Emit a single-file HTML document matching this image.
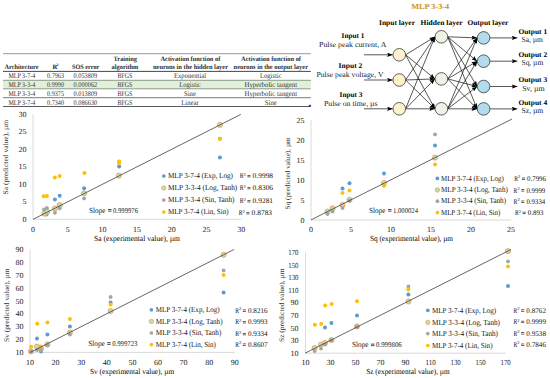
<!DOCTYPE html><html><head><meta charset="utf-8"><title>MLP</title><style>html,body{margin:0;padding:0;background:#fff;width:550px;height:378px;overflow:hidden}svg{display:block}text{font-family:"Liberation Serif", serif;text-rendering:geometricPrecision}</style></head><body>
<svg width="550" height="378" viewBox="0 0 550 378">
<rect width="550" height="378" fill="#fff"/>
<rect x="3" y="80.3" width="307.8" height="8.5" fill="#E2EFDA"/>
<rect x="3" y="53.2" width="307.8" height="1" fill="#9a9a9a"/>
<rect x="3" y="70.9" width="307.8" height="0.9" fill="#333"/>
<rect x="3" y="79.8" width="307.8" height="1" fill="#8c9c86"/>
<rect x="3" y="88.3" width="307.8" height="1" fill="#8c9c86"/>
<rect x="3" y="97.2" width="307.8" height="1" fill="#7a7a7a"/>
<rect x="3" y="106.0" width="307.8" height="1" fill="#5a5a5a"/>
<rect x="308.8" y="104.8" width="2.2" height="2" fill="#3b3bc4"/>
<text x="4.40" y="69.40" font-size="6.7" font-weight="bold" fill="#2e2e2e" textLength="34.20" lengthAdjust="spacingAndGlyphs">Architecture</text>
<text x="52.40" y="69.40" font-size="6.7" font-weight="bold" fill="#1a1a1a">R</text>
<text x="56.60" y="66.30" font-size="3.8" font-weight="bold" fill="#1a1a1a">2</text>
<text x="72.00" y="69.40" font-size="6.7" font-weight="bold" fill="#2e2e2e" textLength="27.40" lengthAdjust="spacingAndGlyphs">SOS error</text>
<text x="113.60" y="60.90" font-size="6.7" font-weight="bold" fill="#2e2e2e" textLength="23.40" lengthAdjust="spacingAndGlyphs">Training</text>
<text x="111.60" y="69.40" font-size="6.7" font-weight="bold" fill="#2e2e2e" textLength="26.80" lengthAdjust="spacingAndGlyphs">algorithm</text>
<text x="160.40" y="60.90" font-size="6.7" font-weight="bold" fill="#2e2e2e" textLength="60.00" lengthAdjust="spacingAndGlyphs">Activation function of</text>
<text x="153.00" y="69.40" font-size="6.7" font-weight="bold" fill="#2e2e2e" textLength="75.00" lengthAdjust="spacingAndGlyphs">neurons in the hidden layer</text>
<text x="241.00" y="60.90" font-size="6.7" font-weight="bold" fill="#2e2e2e" textLength="60.00" lengthAdjust="spacingAndGlyphs">Activation function of</text>
<text x="233.60" y="69.40" font-size="6.7" font-weight="bold" fill="#2e2e2e" textLength="74.40" lengthAdjust="spacingAndGlyphs">neurons in the output layer</text>
<text x="8.40" y="78.20" font-size="7.3" fill="#333" textLength="26.80" lengthAdjust="spacingAndGlyphs">MLP 3-7-4</text>
<text x="47.00" y="78.20" font-size="7.3" fill="#333" textLength="17.00" lengthAdjust="spacingAndGlyphs">0.7963</text>
<text x="73.60" y="78.20" font-size="7.3" fill="#333" textLength="23.60" lengthAdjust="spacingAndGlyphs">0.053809</text>
<text x="117.60" y="78.20" font-size="7.3" fill="#333" textLength="14.80" lengthAdjust="spacingAndGlyphs">BFGS</text>
<text x="174.00" y="78.20" font-size="7.3" fill="#333" textLength="32.00" lengthAdjust="spacingAndGlyphs">Exponential</text>
<text x="260.00" y="78.20" font-size="7.3" fill="#333" textLength="21.60" lengthAdjust="spacingAndGlyphs">Logistic</text>
<text x="8.40" y="86.70" font-size="7.3" fill="#333" textLength="26.80" lengthAdjust="spacingAndGlyphs">MLP 3-3-4</text>
<text x="47.00" y="86.70" font-size="7.3" fill="#333" textLength="17.00" lengthAdjust="spacingAndGlyphs">0.9990</text>
<text x="73.60" y="86.70" font-size="7.3" fill="#333" textLength="23.60" lengthAdjust="spacingAndGlyphs">0.000062</text>
<text x="117.60" y="86.70" font-size="7.3" fill="#333" textLength="14.80" lengthAdjust="spacingAndGlyphs">BFGS</text>
<text x="179.20" y="86.70" font-size="7.3" fill="#333" textLength="21.60" lengthAdjust="spacingAndGlyphs">Logistic</text>
<text x="244.50" y="86.70" font-size="7.3" fill="#333" textLength="52.60" lengthAdjust="spacingAndGlyphs">Hyperbolic tangent</text>
<text x="8.40" y="95.90" font-size="7.3" fill="#333" textLength="26.80" lengthAdjust="spacingAndGlyphs">MLP 3-3-4</text>
<text x="47.00" y="95.90" font-size="7.3" fill="#333" textLength="17.00" lengthAdjust="spacingAndGlyphs">0.9375</text>
<text x="73.60" y="95.90" font-size="7.3" fill="#333" textLength="23.60" lengthAdjust="spacingAndGlyphs">0.013809</text>
<text x="117.60" y="95.90" font-size="7.3" fill="#333" textLength="14.80" lengthAdjust="spacingAndGlyphs">BFGS</text>
<text x="184.00" y="95.90" font-size="7.3" fill="#333" textLength="12.00" lengthAdjust="spacingAndGlyphs">Sine</text>
<text x="244.50" y="95.90" font-size="7.3" fill="#333" textLength="52.60" lengthAdjust="spacingAndGlyphs">Hyperbolic tangent</text>
<text x="8.40" y="104.60" font-size="7.3" fill="#333" textLength="26.80" lengthAdjust="spacingAndGlyphs">MLP 3-7-4</text>
<text x="47.00" y="104.60" font-size="7.3" fill="#333" textLength="17.00" lengthAdjust="spacingAndGlyphs">0.7340</text>
<text x="73.60" y="104.60" font-size="7.3" fill="#333" textLength="23.60" lengthAdjust="spacingAndGlyphs">0.086630</text>
<text x="117.60" y="104.60" font-size="7.3" fill="#333" textLength="14.80" lengthAdjust="spacingAndGlyphs">BFGS</text>
<text x="181.30" y="104.60" font-size="7.3" fill="#333" textLength="17.40" lengthAdjust="spacingAndGlyphs">Linear</text>
<text x="264.80" y="104.60" font-size="7.3" fill="#333" textLength="12.00" lengthAdjust="spacingAndGlyphs">Sine</text>
<line x1="33.00" y1="219.35" x2="33.00" y2="114.35" stroke="#D0D0D0" stroke-width="0.8"/>
<line x1="33.00" y1="219.35" x2="241.20" y2="219.35" stroke="#D0D0D0" stroke-width="0.8"/>
<text x="26.50" y="221.95" font-size="7.8" text-anchor="end" fill="#222" textLength="4.00" lengthAdjust="spacingAndGlyphs">0</text>
<text x="26.50" y="204.45" font-size="7.8" text-anchor="end" fill="#222" textLength="4.00" lengthAdjust="spacingAndGlyphs">5</text>
<text x="26.50" y="186.95" font-size="7.8" text-anchor="end" fill="#222" textLength="8.00" lengthAdjust="spacingAndGlyphs">10</text>
<text x="26.50" y="169.45" font-size="7.8" text-anchor="end" fill="#222" textLength="8.00" lengthAdjust="spacingAndGlyphs">15</text>
<text x="26.50" y="151.95" font-size="7.8" text-anchor="end" fill="#222" textLength="8.00" lengthAdjust="spacingAndGlyphs">20</text>
<text x="26.50" y="134.45" font-size="7.8" text-anchor="end" fill="#222" textLength="8.00" lengthAdjust="spacingAndGlyphs">25</text>
<text x="26.50" y="116.95" font-size="7.8" text-anchor="end" fill="#222" textLength="8.00" lengthAdjust="spacingAndGlyphs">30</text>
<text x="33.00" y="231.80" font-size="7.8" text-anchor="middle" fill="#222" textLength="4.00" lengthAdjust="spacingAndGlyphs">0</text>
<text x="67.70" y="231.80" font-size="7.8" text-anchor="middle" fill="#222" textLength="4.00" lengthAdjust="spacingAndGlyphs">5</text>
<text x="102.40" y="231.80" font-size="7.8" text-anchor="middle" fill="#222" textLength="8.00" lengthAdjust="spacingAndGlyphs">10</text>
<text x="137.10" y="231.80" font-size="7.8" text-anchor="middle" fill="#222" textLength="8.00" lengthAdjust="spacingAndGlyphs">15</text>
<text x="171.80" y="231.80" font-size="7.8" text-anchor="middle" fill="#222" textLength="8.00" lengthAdjust="spacingAndGlyphs">20</text>
<text x="206.50" y="231.80" font-size="7.8" text-anchor="middle" fill="#222" textLength="8.00" lengthAdjust="spacingAndGlyphs">25</text>
<text x="241.20" y="231.80" font-size="7.8" text-anchor="middle" fill="#222" textLength="8.00" lengthAdjust="spacingAndGlyphs">30</text>
<circle cx="46.5" cy="214.5" r="2" fill="#5B9BD5"/>
<circle cx="54.9" cy="199.6" r="2" fill="#5B9BD5"/>
<circle cx="59.7" cy="195.8" r="2" fill="#5B9BD5"/>
<circle cx="84.1" cy="188.2" r="2" fill="#5B9BD5"/>
<circle cx="119.1" cy="166.6" r="2" fill="#5B9BD5"/>
<circle cx="219.9" cy="157.6" r="2" fill="#5B9BD5"/>
<circle cx="44.3" cy="213.6" r="2.55" fill="#B8E4B2" stroke="#F2A46E" stroke-width="1"/>
<circle cx="47.2" cy="211.7" r="2.55" fill="#B8E4B2" stroke="#F2A46E" stroke-width="1"/>
<circle cx="54.9" cy="208.5" r="2.55" fill="#B8E4B2" stroke="#F2A46E" stroke-width="1"/>
<circle cx="59.7" cy="205.1" r="2.55" fill="#B8E4B2" stroke="#F2A46E" stroke-width="1"/>
<circle cx="84.1" cy="193.3" r="2.55" fill="#B8E4B2" stroke="#F2A46E" stroke-width="1"/>
<circle cx="118.9" cy="175.6" r="2.55" fill="#B8E4B2" stroke="#F2A46E" stroke-width="1"/>
<circle cx="219.9" cy="124.9" r="2.55" fill="#B8E4B2" stroke="#F2A46E" stroke-width="1"/>
<circle cx="44.0" cy="209.4" r="1.95" fill="#A5A5A5"/>
<circle cx="46.9" cy="207.9" r="1.95" fill="#A5A5A5"/>
<circle cx="54.9" cy="212.7" r="1.95" fill="#A5A5A5"/>
<circle cx="59.7" cy="208.2" r="1.95" fill="#A5A5A5"/>
<circle cx="84.1" cy="198.4" r="1.95" fill="#A5A5A5"/>
<circle cx="119.1" cy="161.6" r="1.95" fill="#A5A5A5"/>
<circle cx="219.9" cy="138.8" r="1.95" fill="#A5A5A5"/>
<circle cx="43.7" cy="196.2" r="2" fill="#FFC000"/>
<circle cx="46.9" cy="196.0" r="2" fill="#FFC000"/>
<circle cx="54.8" cy="177.4" r="2" fill="#FFC000"/>
<circle cx="59.6" cy="176.0" r="2" fill="#FFC000"/>
<circle cx="84.4" cy="173.0" r="2" fill="#FFC000"/>
<circle cx="119.1" cy="163.0" r="2" fill="#FFC000"/>
<circle cx="119.1" cy="161.4" r="2" fill="#FFC000"/>
<circle cx="219.9" cy="138.8" r="2" fill="#FFC000"/>
<line x1="33.00" y1="219.35" x2="240.80" y2="114.40" stroke="#404040" stroke-width="0.8"/>
<circle cx="163.8" cy="176" r="1.85" fill="#5B9BD5"/>
<text x="168.00" y="178.20" font-size="7.8" fill="#141414" textLength="65.00" lengthAdjust="spacingAndGlyphs">MLP 3-7-4 (Exp, Log)</text>
<text x="239.80" y="178.30" font-size="7.4" fill="#111" textLength="3.8" lengthAdjust="spacingAndGlyphs">R</text>
<text x="243.60" y="175.70" font-size="4.6" fill="#111">2</text>
<rect x="247.40" y="175.00" width="3.1" height="0.75" fill="#333"/><rect x="247.40" y="176.50" width="3.1" height="0.75" fill="#333"/>
<text x="252.60" y="178.30" font-size="7.3" fill="#111" textLength="20.50" lengthAdjust="spacingAndGlyphs">0.9998</text>
<circle cx="163.8" cy="188" r="2.15" fill="#B8E4B2" stroke="#F2A46E" stroke-width="0.9"/>
<text x="168.00" y="190.20" font-size="7.8" fill="#141414" textLength="69.30" lengthAdjust="spacingAndGlyphs">MLP 3-3-4 (Log, Tanh)</text>
<text x="239.80" y="190.30" font-size="7.4" fill="#111" textLength="3.8" lengthAdjust="spacingAndGlyphs">R</text>
<text x="243.60" y="187.70" font-size="4.6" fill="#111">2</text>
<rect x="247.40" y="187.00" width="3.1" height="0.75" fill="#333"/><rect x="247.40" y="188.50" width="3.1" height="0.75" fill="#333"/>
<text x="252.60" y="190.30" font-size="7.3" fill="#111" textLength="20.50" lengthAdjust="spacingAndGlyphs">0.8306</text>
<circle cx="163.8" cy="200" r="1.85" fill="#A5A5A5"/>
<text x="168.00" y="202.20" font-size="7.8" fill="#141414" textLength="66.50" lengthAdjust="spacingAndGlyphs">MLP 3-3-4 (Sin, Tanh)</text>
<text x="239.80" y="203.40" font-size="7.4" fill="#111" textLength="3.8" lengthAdjust="spacingAndGlyphs">R</text>
<text x="243.60" y="200.80" font-size="4.6" fill="#111">2</text>
<rect x="247.40" y="200.10" width="3.1" height="0.75" fill="#333"/><rect x="247.40" y="201.60" width="3.1" height="0.75" fill="#333"/>
<text x="252.60" y="203.40" font-size="7.3" fill="#111" textLength="20.50" lengthAdjust="spacingAndGlyphs">0.9281</text>
<circle cx="163.8" cy="212" r="1.85" fill="#FFC000"/>
<text x="168.00" y="214.20" font-size="7.8" fill="#141414" textLength="60.60" lengthAdjust="spacingAndGlyphs">MLP 3-7-4 (Lin, Sin)</text>
<text x="238.80" y="215.40" font-size="7.4" fill="#111" textLength="3.8" lengthAdjust="spacingAndGlyphs">R</text>
<text x="242.60" y="212.80" font-size="4.6" fill="#111">2</text>
<rect x="246.40" y="212.10" width="3.1" height="0.75" fill="#333"/><rect x="246.40" y="213.60" width="3.1" height="0.75" fill="#333"/>
<text x="251.60" y="215.40" font-size="7.3" fill="#111" textLength="20.50" lengthAdjust="spacingAndGlyphs">0.8783</text>
<text x="89.00" y="212.60" font-size="7.8" fill="#141414" textLength="16.6" lengthAdjust="spacingAndGlyphs">Slope</text>
<rect x="108.00" y="209.10" width="3.5" height="0.8" fill="#222"/><rect x="108.00" y="210.70" width="3.5" height="0.8" fill="#222"/>
<text x="113.00" y="212.60" font-size="7.4" fill="#141414" textLength="25.00" lengthAdjust="spacingAndGlyphs">0.999976</text>
<text x="94.00" y="241.20" font-size="7.8" textLength="86.00" lengthAdjust="spacingAndGlyphs">Sa (experimental value), µm</text>
<text x="0" y="0" font-size="7.1" fill="#333" text-anchor="middle" textLength="74.70" lengthAdjust="spacingAndGlyphs" transform="translate(7.90,157.15) rotate(-90)">Sa (predicted value), µm</text>
<line x1="311.00" y1="220.00" x2="311.00" y2="120.00" stroke="#D0D0D0" stroke-width="0.8"/>
<line x1="311.00" y1="220.00" x2="511.00" y2="220.00" stroke="#D0D0D0" stroke-width="0.8"/>
<text x="304.50" y="222.60" font-size="7.8" text-anchor="end" fill="#222" textLength="4.00" lengthAdjust="spacingAndGlyphs">0</text>
<text x="304.50" y="202.60" font-size="7.8" text-anchor="end" fill="#222" textLength="4.00" lengthAdjust="spacingAndGlyphs">5</text>
<text x="304.50" y="182.60" font-size="7.8" text-anchor="end" fill="#222" textLength="8.00" lengthAdjust="spacingAndGlyphs">10</text>
<text x="304.50" y="162.60" font-size="7.8" text-anchor="end" fill="#222" textLength="8.00" lengthAdjust="spacingAndGlyphs">15</text>
<text x="304.50" y="142.60" font-size="7.8" text-anchor="end" fill="#222" textLength="8.00" lengthAdjust="spacingAndGlyphs">20</text>
<text x="304.50" y="122.60" font-size="7.8" text-anchor="end" fill="#222" textLength="8.00" lengthAdjust="spacingAndGlyphs">25</text>
<text x="311.00" y="231.80" font-size="7.8" text-anchor="middle" fill="#222" textLength="4.00" lengthAdjust="spacingAndGlyphs">0</text>
<text x="351.00" y="231.80" font-size="7.8" text-anchor="middle" fill="#222" textLength="4.00" lengthAdjust="spacingAndGlyphs">5</text>
<text x="391.00" y="231.80" font-size="7.8" text-anchor="middle" fill="#222" textLength="8.00" lengthAdjust="spacingAndGlyphs">10</text>
<text x="431.00" y="231.80" font-size="7.8" text-anchor="middle" fill="#222" textLength="8.00" lengthAdjust="spacingAndGlyphs">15</text>
<text x="471.00" y="231.80" font-size="7.8" text-anchor="middle" fill="#222" textLength="8.00" lengthAdjust="spacingAndGlyphs">20</text>
<text x="511.00" y="231.80" font-size="7.8" text-anchor="middle" fill="#222" textLength="8.00" lengthAdjust="spacingAndGlyphs">25</text>
<circle cx="342.5" cy="188.4" r="2" fill="#5B9BD5"/>
<circle cx="349.5" cy="183.2" r="2" fill="#5B9BD5"/>
<circle cx="384" cy="173.4" r="2" fill="#5B9BD5"/>
<circle cx="435" cy="145.6" r="2" fill="#5B9BD5"/>
<circle cx="327.5" cy="211.6" r="2.55" fill="#B8E4B2" stroke="#F2A46E" stroke-width="1"/>
<circle cx="332.6" cy="208.4" r="2.55" fill="#B8E4B2" stroke="#F2A46E" stroke-width="1"/>
<circle cx="342.5" cy="205" r="2.55" fill="#B8E4B2" stroke="#F2A46E" stroke-width="1"/>
<circle cx="349.5" cy="199.8" r="2.55" fill="#B8E4B2" stroke="#F2A46E" stroke-width="1"/>
<circle cx="384" cy="183" r="2.55" fill="#B8E4B2" stroke="#F2A46E" stroke-width="1"/>
<circle cx="435" cy="157.6" r="2.55" fill="#B8E4B2" stroke="#F2A46E" stroke-width="1"/>
<circle cx="327.5" cy="214" r="1.95" fill="#A5A5A5"/>
<circle cx="332.6" cy="211.5" r="1.95" fill="#A5A5A5"/>
<circle cx="342.5" cy="208" r="1.95" fill="#A5A5A5"/>
<circle cx="349.5" cy="200.8" r="1.95" fill="#A5A5A5"/>
<circle cx="384" cy="185.6" r="1.95" fill="#A5A5A5"/>
<circle cx="435" cy="134.4" r="1.95" fill="#A5A5A5"/>
<circle cx="342.5" cy="193" r="2" fill="#FFC000"/>
<circle cx="349.5" cy="190.4" r="2" fill="#FFC000"/>
<circle cx="384" cy="185.6" r="2" fill="#FFC000"/>
<circle cx="435" cy="164.4" r="2" fill="#FFC000"/>
<line x1="311.00" y1="219.90" x2="511.90" y2="119.10" stroke="#404040" stroke-width="0.8"/>
<circle cx="437.4" cy="178.4" r="1.85" fill="#5B9BD5"/>
<text x="441.00" y="180.60" font-size="7.8" fill="#141414" textLength="62.80" lengthAdjust="spacingAndGlyphs">MLP 3-7-4 (Exp, Log)</text>
<text x="514.30" y="180.90" font-size="7.4" fill="#111" textLength="3.8" lengthAdjust="spacingAndGlyphs">R</text>
<text x="518.10" y="178.30" font-size="4.6" fill="#111">2</text>
<rect x="521.90" y="177.60" width="3.1" height="0.75" fill="#333"/><rect x="521.90" y="179.10" width="3.1" height="0.75" fill="#333"/>
<text x="527.10" y="180.90" font-size="7.3" fill="#111" textLength="18.90" lengthAdjust="spacingAndGlyphs">0.7996</text>
<circle cx="437.4" cy="190" r="2.15" fill="#B8E4B2" stroke="#F2A46E" stroke-width="0.9"/>
<text x="441.00" y="192.20" font-size="7.8" fill="#141414" textLength="66.80" lengthAdjust="spacingAndGlyphs">MLP 3-3-4 (Log, Tanh)</text>
<text x="513.60" y="192.50" font-size="7.4" fill="#111" textLength="3.8" lengthAdjust="spacingAndGlyphs">R</text>
<text x="517.40" y="189.90" font-size="4.6" fill="#111">2</text>
<rect x="521.20" y="189.20" width="3.1" height="0.75" fill="#333"/><rect x="521.20" y="190.70" width="3.1" height="0.75" fill="#333"/>
<text x="526.40" y="192.50" font-size="7.3" fill="#111" textLength="18.90" lengthAdjust="spacingAndGlyphs">0.9999</text>
<circle cx="437.4" cy="201.2" r="1.85" fill="#A5A5A5"/>
<text x="441.00" y="203.40" font-size="7.8" fill="#141414" textLength="65.00" lengthAdjust="spacingAndGlyphs">MLP 3-3-4 (Sin, Tanh)</text>
<text x="513.60" y="203.90" font-size="7.4" fill="#111" textLength="3.8" lengthAdjust="spacingAndGlyphs">R</text>
<text x="517.40" y="201.30" font-size="4.6" fill="#111">2</text>
<rect x="521.20" y="200.60" width="3.1" height="0.75" fill="#333"/><rect x="521.20" y="202.10" width="3.1" height="0.75" fill="#333"/>
<text x="526.40" y="203.90" font-size="7.3" fill="#111" textLength="18.90" lengthAdjust="spacingAndGlyphs">0.9334</text>
<circle cx="437.4" cy="212.6" r="1.85" fill="#FFC000"/>
<text x="441.00" y="214.80" font-size="7.8" fill="#141414" textLength="59.20" lengthAdjust="spacingAndGlyphs">MLP 3-7-4 (Lin, Sin)</text>
<text x="515.00" y="215.10" font-size="7.4" fill="#111" textLength="3.8" lengthAdjust="spacingAndGlyphs">R</text>
<text x="518.80" y="212.50" font-size="4.6" fill="#111">2</text>
<rect x="522.60" y="211.80" width="3.1" height="0.75" fill="#333"/><rect x="522.60" y="213.30" width="3.1" height="0.75" fill="#333"/>
<text x="527.80" y="215.10" font-size="7.3" fill="#111" textLength="15.75" lengthAdjust="spacingAndGlyphs">0.893</text>
<text x="369.00" y="212.60" font-size="7.8" fill="#141414" textLength="16.6" lengthAdjust="spacingAndGlyphs">Slope</text>
<rect x="388.00" y="209.10" width="3.5" height="0.8" fill="#222"/><rect x="388.00" y="210.70" width="3.5" height="0.8" fill="#222"/>
<text x="393.00" y="212.60" font-size="7.4" fill="#141414" textLength="25.00" lengthAdjust="spacingAndGlyphs">1.000024</text>
<text x="370.00" y="241.10" font-size="7.8" textLength="83.00" lengthAdjust="spacingAndGlyphs">Sq (experimental value), µm</text>
<text x="0" y="0" font-size="7.1" fill="#333" text-anchor="middle" textLength="72.10" lengthAdjust="spacingAndGlyphs" transform="translate(290.00,173.35) rotate(-90)">Sq (predicted value), µm</text>
<line x1="30.00" y1="352.40" x2="30.00" y2="249.40" stroke="#D0D0D0" stroke-width="0.8"/>
<line x1="30.00" y1="352.40" x2="234.80" y2="352.40" stroke="#D0D0D0" stroke-width="0.8"/>
<text x="23.50" y="355.00" font-size="7.8" text-anchor="end" fill="#222" textLength="8.00" lengthAdjust="spacingAndGlyphs">10</text>
<text x="23.50" y="342.12" font-size="7.8" text-anchor="end" fill="#222" textLength="8.00" lengthAdjust="spacingAndGlyphs">20</text>
<text x="23.50" y="329.25" font-size="7.8" text-anchor="end" fill="#222" textLength="8.00" lengthAdjust="spacingAndGlyphs">30</text>
<text x="23.50" y="316.38" font-size="7.8" text-anchor="end" fill="#222" textLength="8.00" lengthAdjust="spacingAndGlyphs">40</text>
<text x="23.50" y="303.50" font-size="7.8" text-anchor="end" fill="#222" textLength="8.00" lengthAdjust="spacingAndGlyphs">50</text>
<text x="23.50" y="290.62" font-size="7.8" text-anchor="end" fill="#222" textLength="8.00" lengthAdjust="spacingAndGlyphs">60</text>
<text x="23.50" y="277.75" font-size="7.8" text-anchor="end" fill="#222" textLength="8.00" lengthAdjust="spacingAndGlyphs">70</text>
<text x="23.50" y="264.88" font-size="7.8" text-anchor="end" fill="#222" textLength="8.00" lengthAdjust="spacingAndGlyphs">80</text>
<text x="23.50" y="252.00" font-size="7.8" text-anchor="end" fill="#222" textLength="8.00" lengthAdjust="spacingAndGlyphs">90</text>
<text x="30.00" y="364.80" font-size="7.8" text-anchor="middle" fill="#222" textLength="8.00" lengthAdjust="spacingAndGlyphs">10</text>
<text x="55.60" y="364.80" font-size="7.8" text-anchor="middle" fill="#222" textLength="8.00" lengthAdjust="spacingAndGlyphs">20</text>
<text x="81.20" y="364.80" font-size="7.8" text-anchor="middle" fill="#222" textLength="8.00" lengthAdjust="spacingAndGlyphs">30</text>
<text x="106.80" y="364.80" font-size="7.8" text-anchor="middle" fill="#222" textLength="8.00" lengthAdjust="spacingAndGlyphs">40</text>
<text x="132.40" y="364.80" font-size="7.8" text-anchor="middle" fill="#222" textLength="8.00" lengthAdjust="spacingAndGlyphs">50</text>
<text x="158.00" y="364.80" font-size="7.8" text-anchor="middle" fill="#222" textLength="8.00" lengthAdjust="spacingAndGlyphs">60</text>
<text x="183.60" y="364.80" font-size="7.8" text-anchor="middle" fill="#222" textLength="8.00" lengthAdjust="spacingAndGlyphs">70</text>
<text x="209.20" y="364.80" font-size="7.8" text-anchor="middle" fill="#222" textLength="8.00" lengthAdjust="spacingAndGlyphs">80</text>
<text x="234.80" y="364.80" font-size="7.8" text-anchor="middle" fill="#222" textLength="8.00" lengthAdjust="spacingAndGlyphs">90</text>
<circle cx="37" cy="338.4" r="2" fill="#5B9BD5"/>
<circle cx="41" cy="351.6" r="2" fill="#5B9BD5"/>
<circle cx="47.4" cy="334.4" r="2" fill="#5B9BD5"/>
<circle cx="69.9" cy="326.6" r="2" fill="#5B9BD5"/>
<circle cx="110.6" cy="302.4" r="2" fill="#5B9BD5"/>
<circle cx="223.6" cy="292.4" r="2" fill="#5B9BD5"/>
<circle cx="31" cy="351.4" r="2.55" fill="#B8E4B2" stroke="#F2A46E" stroke-width="1"/>
<circle cx="37" cy="346.6" r="2.55" fill="#B8E4B2" stroke="#F2A46E" stroke-width="1"/>
<circle cx="41" cy="348.6" r="2.55" fill="#B8E4B2" stroke="#F2A46E" stroke-width="1"/>
<circle cx="47.4" cy="344.4" r="2.55" fill="#B8E4B2" stroke="#F2A46E" stroke-width="1"/>
<circle cx="69.9" cy="332.6" r="2.55" fill="#B8E4B2" stroke="#F2A46E" stroke-width="1"/>
<circle cx="110.6" cy="311" r="2.55" fill="#B8E4B2" stroke="#F2A46E" stroke-width="1"/>
<circle cx="223.6" cy="254.8" r="2.55" fill="#B8E4B2" stroke="#F2A46E" stroke-width="1"/>
<circle cx="31" cy="351.5" r="1.95" fill="#A5A5A5"/>
<circle cx="37" cy="350" r="1.95" fill="#A5A5A5"/>
<circle cx="41" cy="349.6" r="1.95" fill="#A5A5A5"/>
<circle cx="47.4" cy="345.4" r="1.95" fill="#A5A5A5"/>
<circle cx="69.9" cy="334.6" r="1.95" fill="#A5A5A5"/>
<circle cx="110.6" cy="297" r="1.95" fill="#A5A5A5"/>
<circle cx="223.6" cy="270.4" r="1.95" fill="#A5A5A5"/>
<circle cx="31.2" cy="346.8" r="2" fill="#FFC000"/>
<circle cx="40.6" cy="346.6" r="2" fill="#FFC000"/>
<circle cx="37.3" cy="323.8" r="2" fill="#FFC000"/>
<circle cx="47.4" cy="322.4" r="2" fill="#FFC000"/>
<circle cx="69.9" cy="319" r="2" fill="#FFC000"/>
<circle cx="110.6" cy="304.6" r="2" fill="#FFC000"/>
<circle cx="223.6" cy="275" r="2" fill="#FFC000"/>
<line x1="30.00" y1="352.50" x2="234.20" y2="249.40" stroke="#404040" stroke-width="0.8"/>
<circle cx="151.4" cy="309.8" r="1.85" fill="#5B9BD5"/>
<text x="155.80" y="312.00" font-size="7.8" fill="#141414" textLength="63.80" lengthAdjust="spacingAndGlyphs">MLP 3-7-4 (Exp, Log)</text>
<text x="235.20" y="312.80" font-size="7.4" fill="#111" textLength="3.8" lengthAdjust="spacingAndGlyphs">R</text>
<text x="239.00" y="310.20" font-size="4.6" fill="#111">2</text>
<rect x="242.80" y="309.50" width="3.1" height="0.75" fill="#333"/><rect x="242.80" y="311.00" width="3.1" height="0.75" fill="#333"/>
<text x="248.00" y="312.80" font-size="7.3" fill="#111" textLength="19.60" lengthAdjust="spacingAndGlyphs">0.8216</text>
<circle cx="151.4" cy="321.4" r="2.15" fill="#B8E4B2" stroke="#F2A46E" stroke-width="0.9"/>
<text x="155.80" y="323.60" font-size="7.8" fill="#141414" textLength="66.70" lengthAdjust="spacingAndGlyphs">MLP 3-3-4 (Log, Tanh)</text>
<text x="235.20" y="324.40" font-size="7.4" fill="#111" textLength="3.8" lengthAdjust="spacingAndGlyphs">R</text>
<text x="239.00" y="321.80" font-size="4.6" fill="#111">2</text>
<rect x="242.80" y="321.10" width="3.1" height="0.75" fill="#333"/><rect x="242.80" y="322.60" width="3.1" height="0.75" fill="#333"/>
<text x="248.00" y="324.40" font-size="7.3" fill="#111" textLength="19.60" lengthAdjust="spacingAndGlyphs">0.9993</text>
<circle cx="151.4" cy="333" r="1.85" fill="#A5A5A5"/>
<text x="155.80" y="335.20" font-size="7.8" fill="#141414" textLength="65.50" lengthAdjust="spacingAndGlyphs">MLP 3-3-4 (Sin, Tanh)</text>
<text x="235.20" y="336.30" font-size="7.4" fill="#111" textLength="3.8" lengthAdjust="spacingAndGlyphs">R</text>
<text x="239.00" y="333.70" font-size="4.6" fill="#111">2</text>
<rect x="242.80" y="333.00" width="3.1" height="0.75" fill="#333"/><rect x="242.80" y="334.50" width="3.1" height="0.75" fill="#333"/>
<text x="248.00" y="336.30" font-size="7.3" fill="#111" textLength="19.60" lengthAdjust="spacingAndGlyphs">0.9334</text>
<circle cx="151.4" cy="344.6" r="1.85" fill="#FFC000"/>
<text x="155.80" y="346.80" font-size="7.8" fill="#141414" textLength="60.10" lengthAdjust="spacingAndGlyphs">MLP 3-7-4 (Lin, Sin)</text>
<text x="235.20" y="346.80" font-size="7.4" fill="#111" textLength="3.8" lengthAdjust="spacingAndGlyphs">R</text>
<text x="239.00" y="344.20" font-size="4.6" fill="#111">2</text>
<rect x="242.80" y="343.50" width="3.1" height="0.75" fill="#333"/><rect x="242.80" y="345.00" width="3.1" height="0.75" fill="#333"/>
<text x="248.00" y="346.80" font-size="7.3" fill="#111" textLength="19.60" lengthAdjust="spacingAndGlyphs">0.8607</text>
<text x="88.20" y="345.80" font-size="7.8" fill="#141414" textLength="16.6" lengthAdjust="spacingAndGlyphs">Slope</text>
<rect x="107.20" y="342.30" width="3.5" height="0.8" fill="#222"/><rect x="107.20" y="343.90" width="3.5" height="0.8" fill="#222"/>
<text x="112.20" y="345.80" font-size="7.4" fill="#141414" textLength="25.20" lengthAdjust="spacingAndGlyphs">0.999723</text>
<text x="90.00" y="373.70" font-size="7.8" textLength="84.20" lengthAdjust="spacingAndGlyphs">Sv (experimental value), µm</text>
<text x="0" y="0" font-size="7.1" fill="#333" text-anchor="middle" textLength="73.30" lengthAdjust="spacingAndGlyphs" transform="translate(8.60,305.25) rotate(-90)">Sv (predicted value), µm</text>
<line x1="305.60" y1="353.20" x2="305.60" y2="252.40" stroke="#D0D0D0" stroke-width="0.8"/>
<line x1="305.60" y1="353.20" x2="505.60" y2="353.20" stroke="#D0D0D0" stroke-width="0.8"/>
<text x="298.50" y="355.80" font-size="7.8" text-anchor="end" fill="#222" textLength="8.00" lengthAdjust="spacingAndGlyphs">10</text>
<text x="298.50" y="343.20" font-size="7.8" text-anchor="end" fill="#222" textLength="8.00" lengthAdjust="spacingAndGlyphs">30</text>
<text x="298.50" y="330.60" font-size="7.8" text-anchor="end" fill="#222" textLength="8.00" lengthAdjust="spacingAndGlyphs">50</text>
<text x="298.50" y="318.00" font-size="7.8" text-anchor="end" fill="#222" textLength="8.00" lengthAdjust="spacingAndGlyphs">70</text>
<text x="298.50" y="305.40" font-size="7.8" text-anchor="end" fill="#222" textLength="8.00" lengthAdjust="spacingAndGlyphs">90</text>
<text x="298.50" y="292.80" font-size="7.8" text-anchor="end" fill="#222" textLength="10.20" lengthAdjust="spacingAndGlyphs">110</text>
<text x="298.50" y="280.20" font-size="7.8" text-anchor="end" fill="#222" textLength="10.20" lengthAdjust="spacingAndGlyphs">130</text>
<text x="298.50" y="267.60" font-size="7.8" text-anchor="end" fill="#222" textLength="10.20" lengthAdjust="spacingAndGlyphs">150</text>
<text x="298.50" y="255.00" font-size="7.8" text-anchor="end" fill="#222" textLength="10.20" lengthAdjust="spacingAndGlyphs">170</text>
<text x="305.60" y="365.40" font-size="7.8" text-anchor="middle" fill="#222" textLength="8.00" lengthAdjust="spacingAndGlyphs">10</text>
<text x="330.60" y="365.40" font-size="7.8" text-anchor="middle" fill="#222" textLength="8.00" lengthAdjust="spacingAndGlyphs">30</text>
<text x="355.60" y="365.40" font-size="7.8" text-anchor="middle" fill="#222" textLength="8.00" lengthAdjust="spacingAndGlyphs">50</text>
<text x="380.60" y="365.40" font-size="7.8" text-anchor="middle" fill="#222" textLength="8.00" lengthAdjust="spacingAndGlyphs">70</text>
<text x="405.60" y="365.40" font-size="7.8" text-anchor="middle" fill="#222" textLength="8.00" lengthAdjust="spacingAndGlyphs">90</text>
<text x="430.60" y="365.40" font-size="7.8" text-anchor="middle" fill="#222" textLength="10.20" lengthAdjust="spacingAndGlyphs">110</text>
<text x="455.60" y="365.40" font-size="7.8" text-anchor="middle" fill="#222" textLength="10.20" lengthAdjust="spacingAndGlyphs">130</text>
<text x="480.60" y="365.40" font-size="7.8" text-anchor="middle" fill="#222" textLength="10.20" lengthAdjust="spacingAndGlyphs">150</text>
<text x="505.60" y="365.40" font-size="7.8" text-anchor="middle" fill="#222" textLength="10.20" lengthAdjust="spacingAndGlyphs">170</text>
<circle cx="325" cy="327.4" r="2" fill="#5B9BD5"/>
<circle cx="331.4" cy="323" r="2" fill="#5B9BD5"/>
<circle cx="357" cy="315.4" r="2" fill="#5B9BD5"/>
<circle cx="408.4" cy="294.4" r="2" fill="#5B9BD5"/>
<circle cx="508" cy="286" r="2" fill="#5B9BD5"/>
<circle cx="314.6" cy="348" r="2.55" fill="#B8E4B2" stroke="#F2A46E" stroke-width="1"/>
<circle cx="321" cy="344.6" r="2.55" fill="#B8E4B2" stroke="#F2A46E" stroke-width="1"/>
<circle cx="325" cy="343" r="2.55" fill="#B8E4B2" stroke="#F2A46E" stroke-width="1"/>
<circle cx="331.4" cy="340" r="2.55" fill="#B8E4B2" stroke="#F2A46E" stroke-width="1"/>
<circle cx="357" cy="326.4" r="2.55" fill="#B8E4B2" stroke="#F2A46E" stroke-width="1"/>
<circle cx="408.5" cy="301.5" r="2.55" fill="#B8E4B2" stroke="#F2A46E" stroke-width="1"/>
<circle cx="508" cy="251.1" r="2.55" fill="#B8E4B2" stroke="#F2A46E" stroke-width="1"/>
<circle cx="314.6" cy="351" r="1.95" fill="#A5A5A5"/>
<circle cx="321" cy="348.6" r="1.95" fill="#A5A5A5"/>
<circle cx="325" cy="344.6" r="1.95" fill="#A5A5A5"/>
<circle cx="331.4" cy="340.4" r="1.95" fill="#A5A5A5"/>
<circle cx="357" cy="327" r="1.95" fill="#A5A5A5"/>
<circle cx="408.4" cy="286.4" r="1.95" fill="#A5A5A5"/>
<circle cx="508" cy="261.4" r="1.95" fill="#A5A5A5"/>
<circle cx="314.9" cy="324.7" r="2" fill="#FFC000"/>
<circle cx="321.2" cy="324" r="2" fill="#FFC000"/>
<circle cx="325.2" cy="305.4" r="2" fill="#FFC000"/>
<circle cx="331.6" cy="304" r="2" fill="#FFC000"/>
<circle cx="357" cy="301.3" r="2" fill="#FFC000"/>
<circle cx="408.4" cy="289.6" r="2" fill="#FFC000"/>
<circle cx="508" cy="266.4" r="2" fill="#FFC000"/>
<line x1="305.00" y1="353.20" x2="511.00" y2="249.50" stroke="#404040" stroke-width="0.8"/>
<circle cx="427.8" cy="310.3" r="1.85" fill="#5B9BD5"/>
<text x="432.00" y="312.50" font-size="7.8" fill="#141414" textLength="64.20" lengthAdjust="spacingAndGlyphs">MLP 3-7-4 (Exp, Log)</text>
<text x="513.50" y="312.70" font-size="7.4" fill="#111" textLength="3.8" lengthAdjust="spacingAndGlyphs">R</text>
<text x="517.30" y="310.10" font-size="4.6" fill="#111">2</text>
<rect x="521.10" y="309.40" width="3.1" height="0.75" fill="#333"/><rect x="521.10" y="310.90" width="3.1" height="0.75" fill="#333"/>
<text x="526.30" y="312.70" font-size="7.3" fill="#111" textLength="19.70" lengthAdjust="spacingAndGlyphs">0.8762</text>
<circle cx="427.8" cy="322.4" r="2.15" fill="#B8E4B2" stroke="#F2A46E" stroke-width="0.9"/>
<text x="432.00" y="324.60" font-size="7.8" fill="#141414" textLength="68.00" lengthAdjust="spacingAndGlyphs">MLP 3-3-4 (Log, Tanh)</text>
<text x="513.50" y="324.10" font-size="7.4" fill="#111" textLength="3.8" lengthAdjust="spacingAndGlyphs">R</text>
<text x="517.30" y="321.50" font-size="4.6" fill="#111">2</text>
<rect x="521.10" y="320.80" width="3.1" height="0.75" fill="#333"/><rect x="521.10" y="322.30" width="3.1" height="0.75" fill="#333"/>
<text x="526.30" y="324.10" font-size="7.3" fill="#111" textLength="19.70" lengthAdjust="spacingAndGlyphs">0.9999</text>
<circle cx="427.8" cy="333.6" r="1.85" fill="#A5A5A5"/>
<text x="432.00" y="335.80" font-size="7.8" fill="#141414" textLength="66.00" lengthAdjust="spacingAndGlyphs">MLP 3-3-4 (Sin, Tanh)</text>
<text x="513.50" y="335.50" font-size="7.4" fill="#111" textLength="3.8" lengthAdjust="spacingAndGlyphs">R</text>
<text x="517.30" y="332.90" font-size="4.6" fill="#111">2</text>
<rect x="521.10" y="332.20" width="3.1" height="0.75" fill="#333"/><rect x="521.10" y="333.70" width="3.1" height="0.75" fill="#333"/>
<text x="526.30" y="335.50" font-size="7.3" fill="#111" textLength="19.70" lengthAdjust="spacingAndGlyphs">0.9538</text>
<circle cx="427.8" cy="345.5" r="1.85" fill="#FFC000"/>
<text x="432.00" y="347.70" font-size="7.8" fill="#141414" textLength="60.50" lengthAdjust="spacingAndGlyphs">MLP 3-7-4 (Lin, Sin)</text>
<text x="513.50" y="346.90" font-size="7.4" fill="#111" textLength="3.8" lengthAdjust="spacingAndGlyphs">R</text>
<text x="517.30" y="344.30" font-size="4.6" fill="#111">2</text>
<rect x="521.10" y="343.60" width="3.1" height="0.75" fill="#333"/><rect x="521.10" y="345.10" width="3.1" height="0.75" fill="#333"/>
<text x="526.30" y="346.90" font-size="7.3" fill="#111" textLength="19.70" lengthAdjust="spacingAndGlyphs">0.7846</text>
<text x="352.00" y="347.20" font-size="7.8" fill="#141414" textLength="16.6" lengthAdjust="spacingAndGlyphs">Slope</text>
<rect x="371.00" y="343.70" width="3.5" height="0.8" fill="#222"/><rect x="371.00" y="345.30" width="3.5" height="0.8" fill="#222"/>
<text x="376.00" y="347.20" font-size="7.4" fill="#141414" textLength="25.80" lengthAdjust="spacingAndGlyphs">0.999806</text>
<text x="366.20" y="373.80" font-size="7.8" textLength="83.60" lengthAdjust="spacingAndGlyphs">Sz (experimental value), µm</text>
<text x="0" y="0" font-size="7.1" fill="#333" text-anchor="middle" textLength="73.50" lengthAdjust="spacingAndGlyphs" transform="translate(283.50,305.15) rotate(-90)">Sz (predicted value), µm</text>
<defs><marker id="ah" viewBox="0 0 10 10" refX="10" refY="5" markerWidth="5.6" markerHeight="4.3" markerUnits="userSpaceOnUse" orient="auto" preserveAspectRatio="none"><path d="M0,0 L10,5 L0,10 L2,5 z" fill="#000"/></marker></defs>
<line x1="364.00" y1="54.80" x2="392.70" y2="54.80" stroke="#111" stroke-width="0.7" marker-end="url(#ah)"/>
<line x1="364.00" y1="80.00" x2="392.70" y2="80.00" stroke="#111" stroke-width="0.7" marker-end="url(#ah)"/>
<line x1="364.00" y1="108.80" x2="392.70" y2="108.80" stroke="#111" stroke-width="0.7" marker-end="url(#ah)"/>
<line x1="405.60" y1="54.80" x2="434.90" y2="36.80" stroke="#111" stroke-width="0.7" marker-end="url(#ah)"/>
<line x1="405.60" y1="54.80" x2="434.90" y2="78.90" stroke="#111" stroke-width="0.7" marker-end="url(#ah)"/>
<line x1="405.60" y1="54.80" x2="434.90" y2="108.80" stroke="#111" stroke-width="0.7" marker-end="url(#ah)"/>
<line x1="405.60" y1="80.00" x2="434.90" y2="36.80" stroke="#111" stroke-width="0.7" marker-end="url(#ah)"/>
<line x1="405.60" y1="80.00" x2="434.90" y2="78.90" stroke="#111" stroke-width="0.7" marker-end="url(#ah)"/>
<line x1="405.60" y1="80.00" x2="434.90" y2="108.80" stroke="#111" stroke-width="0.7" marker-end="url(#ah)"/>
<line x1="405.60" y1="108.80" x2="434.90" y2="36.80" stroke="#111" stroke-width="0.7" marker-end="url(#ah)"/>
<line x1="405.60" y1="108.80" x2="434.90" y2="78.90" stroke="#111" stroke-width="0.7" marker-end="url(#ah)"/>
<line x1="405.60" y1="108.80" x2="434.90" y2="108.80" stroke="#111" stroke-width="0.7" marker-end="url(#ah)"/>
<line x1="447.70" y1="36.80" x2="477.10" y2="37.90" stroke="#111" stroke-width="0.7" marker-end="url(#ah)"/>
<line x1="447.70" y1="36.80" x2="477.10" y2="61.20" stroke="#111" stroke-width="0.7" marker-end="url(#ah)"/>
<line x1="447.70" y1="36.80" x2="477.10" y2="86.50" stroke="#111" stroke-width="0.7" marker-end="url(#ah)"/>
<line x1="447.70" y1="36.80" x2="477.10" y2="108.90" stroke="#111" stroke-width="0.7" marker-end="url(#ah)"/>
<line x1="447.70" y1="78.90" x2="477.10" y2="37.90" stroke="#111" stroke-width="0.7" marker-end="url(#ah)"/>
<line x1="447.70" y1="78.90" x2="477.10" y2="61.20" stroke="#111" stroke-width="0.7" marker-end="url(#ah)"/>
<line x1="447.70" y1="78.90" x2="477.10" y2="86.50" stroke="#111" stroke-width="0.7" marker-end="url(#ah)"/>
<line x1="447.70" y1="78.90" x2="477.10" y2="108.90" stroke="#111" stroke-width="0.7" marker-end="url(#ah)"/>
<line x1="447.70" y1="108.80" x2="477.10" y2="37.90" stroke="#111" stroke-width="0.7" marker-end="url(#ah)"/>
<line x1="447.70" y1="108.80" x2="477.10" y2="61.20" stroke="#111" stroke-width="0.7" marker-end="url(#ah)"/>
<line x1="447.70" y1="108.80" x2="477.10" y2="86.50" stroke="#111" stroke-width="0.7" marker-end="url(#ah)"/>
<line x1="447.70" y1="108.80" x2="477.10" y2="108.90" stroke="#111" stroke-width="0.7" marker-end="url(#ah)"/>
<line x1="489.90" y1="37.90" x2="517.40" y2="37.90" stroke="#111" stroke-width="0.7" marker-end="url(#ah)"/>
<line x1="489.90" y1="61.20" x2="517.40" y2="61.20" stroke="#111" stroke-width="0.7" marker-end="url(#ah)"/>
<line x1="489.90" y1="86.50" x2="517.40" y2="86.50" stroke="#111" stroke-width="0.7" marker-end="url(#ah)"/>
<line x1="489.90" y1="108.90" x2="517.40" y2="108.90" stroke="#111" stroke-width="0.7" marker-end="url(#ah)"/>
<circle cx="399.3" cy="54.8" r="6.3" fill="#FDF2CD" stroke="#3a3a3a" stroke-width="0.8"/>
<circle cx="399.3" cy="80.0" r="6.3" fill="#FDF2CD" stroke="#3a3a3a" stroke-width="0.8"/>
<circle cx="399.3" cy="108.8" r="6.3" fill="#FDF2CD" stroke="#3a3a3a" stroke-width="0.8"/>
<circle cx="441.4" cy="36.8" r="6.3" fill="#ECF2E4" stroke="#3a3a3a" stroke-width="0.8"/>
<circle cx="441.4" cy="78.9" r="6.3" fill="#ECF2E4" stroke="#3a3a3a" stroke-width="0.8"/>
<circle cx="441.4" cy="108.8" r="6.3" fill="#ECF2E4" stroke="#3a3a3a" stroke-width="0.8"/>
<circle cx="483.6" cy="37.9" r="6.3" fill="#B0DCEC" stroke="#3a3a3a" stroke-width="0.8"/>
<circle cx="483.6" cy="61.2" r="6.3" fill="#B0DCEC" stroke="#3a3a3a" stroke-width="0.8"/>
<circle cx="483.6" cy="86.5" r="6.3" fill="#B0DCEC" stroke="#3a3a3a" stroke-width="0.8"/>
<circle cx="483.6" cy="108.9" r="6.3" fill="#B0DCEC" stroke="#3a3a3a" stroke-width="0.8"/>
<text x="411.30" y="8.70" font-size="7.8" font-weight="bold" fill="#C9940E" textLength="37.90" lengthAdjust="spacingAndGlyphs">MLP 3-3-4</text>
<text x="379.00" y="25.40" font-size="7.3" font-weight="bold" textLength="36.00" lengthAdjust="spacingAndGlyphs">Input layer</text>
<text x="420.60" y="25.40" font-size="7.3" font-weight="bold" textLength="42.00" lengthAdjust="spacingAndGlyphs">Hidden layer</text>
<text x="467.40" y="25.40" font-size="7.3" font-weight="bold" textLength="41.00" lengthAdjust="spacingAndGlyphs">Output layer</text>
<text x="341.60" y="38.00" font-size="7.3" font-weight="bold" textLength="22.80" lengthAdjust="spacingAndGlyphs">Input 1</text>
<text x="319.00" y="46.90" font-size="7.6" fill="#222" textLength="67.40" lengthAdjust="spacingAndGlyphs">Pulse peak current, A</text>
<text x="338.60" y="67.50" font-size="7.3" font-weight="bold" textLength="23.80" lengthAdjust="spacingAndGlyphs">Input 2</text>
<text x="316.40" y="76.50" font-size="7.6" fill="#222" textLength="67.20" lengthAdjust="spacingAndGlyphs">Pulse peak voltage, V</text>
<text x="339.60" y="97.10" font-size="7.3" font-weight="bold" textLength="22.80" lengthAdjust="spacingAndGlyphs">Input 3</text>
<text x="324.00" y="105.60" font-size="7.6" fill="#222" textLength="53.60" lengthAdjust="spacingAndGlyphs">Pulse on time, µs</text>
<text x="518.40" y="34.00" font-size="7.3" font-weight="bold" textLength="28.80" lengthAdjust="spacingAndGlyphs">Output 1</text>
<text x="521.50" y="42.00" font-size="7.6" fill="#222" textLength="21.30" lengthAdjust="spacingAndGlyphs">Sa, µm</text>
<text x="518.40" y="57.00" font-size="7.3" font-weight="bold" textLength="28.80" lengthAdjust="spacingAndGlyphs">Output 2</text>
<text x="521.50" y="65.00" font-size="7.6" fill="#222" textLength="21.70" lengthAdjust="spacingAndGlyphs">Sq, µm</text>
<text x="518.40" y="82.30" font-size="7.3" font-weight="bold" textLength="28.80" lengthAdjust="spacingAndGlyphs">Output 3</text>
<text x="522.20" y="90.50" font-size="7.6" fill="#222" textLength="22.60" lengthAdjust="spacingAndGlyphs">Sv, µm</text>
<text x="518.40" y="104.60" font-size="7.3" font-weight="bold" textLength="28.80" lengthAdjust="spacingAndGlyphs">Output 4</text>
<text x="521.50" y="112.60" font-size="7.6" fill="#222" textLength="21.80" lengthAdjust="spacingAndGlyphs">Sz, µm</text>
</svg></body></html>
